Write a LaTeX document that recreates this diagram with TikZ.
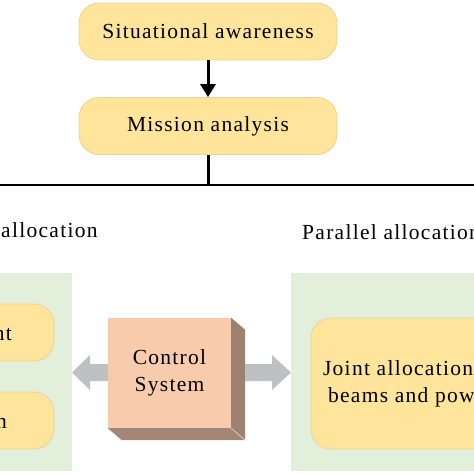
\documentclass[tikz,border=0pt]{standalone}
\usepackage{fontspec}
\setmainfont{Liberation Serif}[LetterSpace=6]
\usetikzlibrary{arrows.meta,calc}
\definecolor{boxfill}{HTML}{FEE59B}
\definecolor{boxline}{HTML}{EDD492}
\definecolor{panelfill}{HTML}{E2EFDA}
\definecolor{csfront}{HTML}{F8CBAD}
\definecolor{csside}{HTML}{9E8271}
\definecolor{csbottom}{HTML}{A48676}
\definecolor{arrowgray}{HTML}{BFC0C4}
\tikzset{
  txt/.style={font=\fontsize{21.5}{27}\selectfont},
  pill/.style={txt, draw=boxline, line width=0.8pt, fill=boxfill, rounded corners=20pt,
    minimum width=258pt, minimum height=57pt, inner sep=0pt, align=center},
  panel/.style={fill=panelfill, draw=none},
  ybox/.style={draw=boxline, line width=0.8pt, fill=boxfill, rounded corners=20pt},
  conn/.style={line width=3pt, draw=black},
  lbl/.style={txt, inner sep=0pt},
  grayarrow/.style={fill=arrowgray, draw=none},
  csbox/.style={txt, fill=csfront, draw=none, minimum width=123pt, minimum height=110pt,
    inner sep=0pt, align=center},
}
\begin{document}
\begin{tikzpicture}[x=1pt,y=-1pt]
\useasboundingbox (0,0) rectangle (474,474);
\clip (0,0) rectangle (474,474);
% top flow
\node[pill] (sa) at (208,31.5) {Situational awareness};
\node[pill] (ma) at (208,126) {Mission analysis};
\draw[conn,-{Triangle[width=15pt,length=13pt]}] (sa) -- (ma);
\coordinate (hl) at (-5,185);
\coordinate (hr) at (480,185);
\draw[conn] (ma.south) -- (ma.south |- hl);
\draw[line width=2.6pt] (hl) -- (hr);
% headers
\node[lbl, anchor=base west] (lh) at (1,237) {allocation};
\node[lbl, anchor=base west] (rh) at (302,239) {Parallel allocation};
% panels
\path[panel] (-10,273) rectangle (72,471);
\path[panel] (291,273) rectangle (520,471);
% left boxes
\path[ybox] (-60,304) rectangle (54,361);
\path[ybox] (-60,392) rectangle (54,449);
\node[lbl, anchor=base east] (l1) at (12,340) {nt};
\node[lbl, anchor=base east] (l2) at (7,428) {n};
% right box
\path[ybox] (311,318) rectangle (511,449);
\node[lbl, align=center] (rb) at (411,384) {Joint allocation of\\beams and power};
% control system
\node[csbox] (cs) at (169.5,373) {Control\\System};
\fill[csside] (cs.north east) -- ++(14,12) -- ($(cs.south east)+(14,12)$) -- (cs.south east) -- cycle;
\fill[csbottom] (cs.south west) -- (cs.south east) -- ++(14,12) -- ($(cs.south west)+(14,12)$) -- cycle;
\draw[white!70!csside, line width=0.6pt] (cs.south east) -- ++(14,12);
% gray arrows
\fill[grayarrow] (cs.west |- 0,364) -- (90,364) -- (90,355) -- (72,372.5) -- (90,390) -- (90,381) -- (cs.west |- 0,381) -- cycle;
\fill[grayarrow] (245,364) -- (272,364) -- (272,355) -- (291,372.5) -- (272,390) -- (272,381) -- (245,381) -- cycle;
\end{tikzpicture}
\end{document}
